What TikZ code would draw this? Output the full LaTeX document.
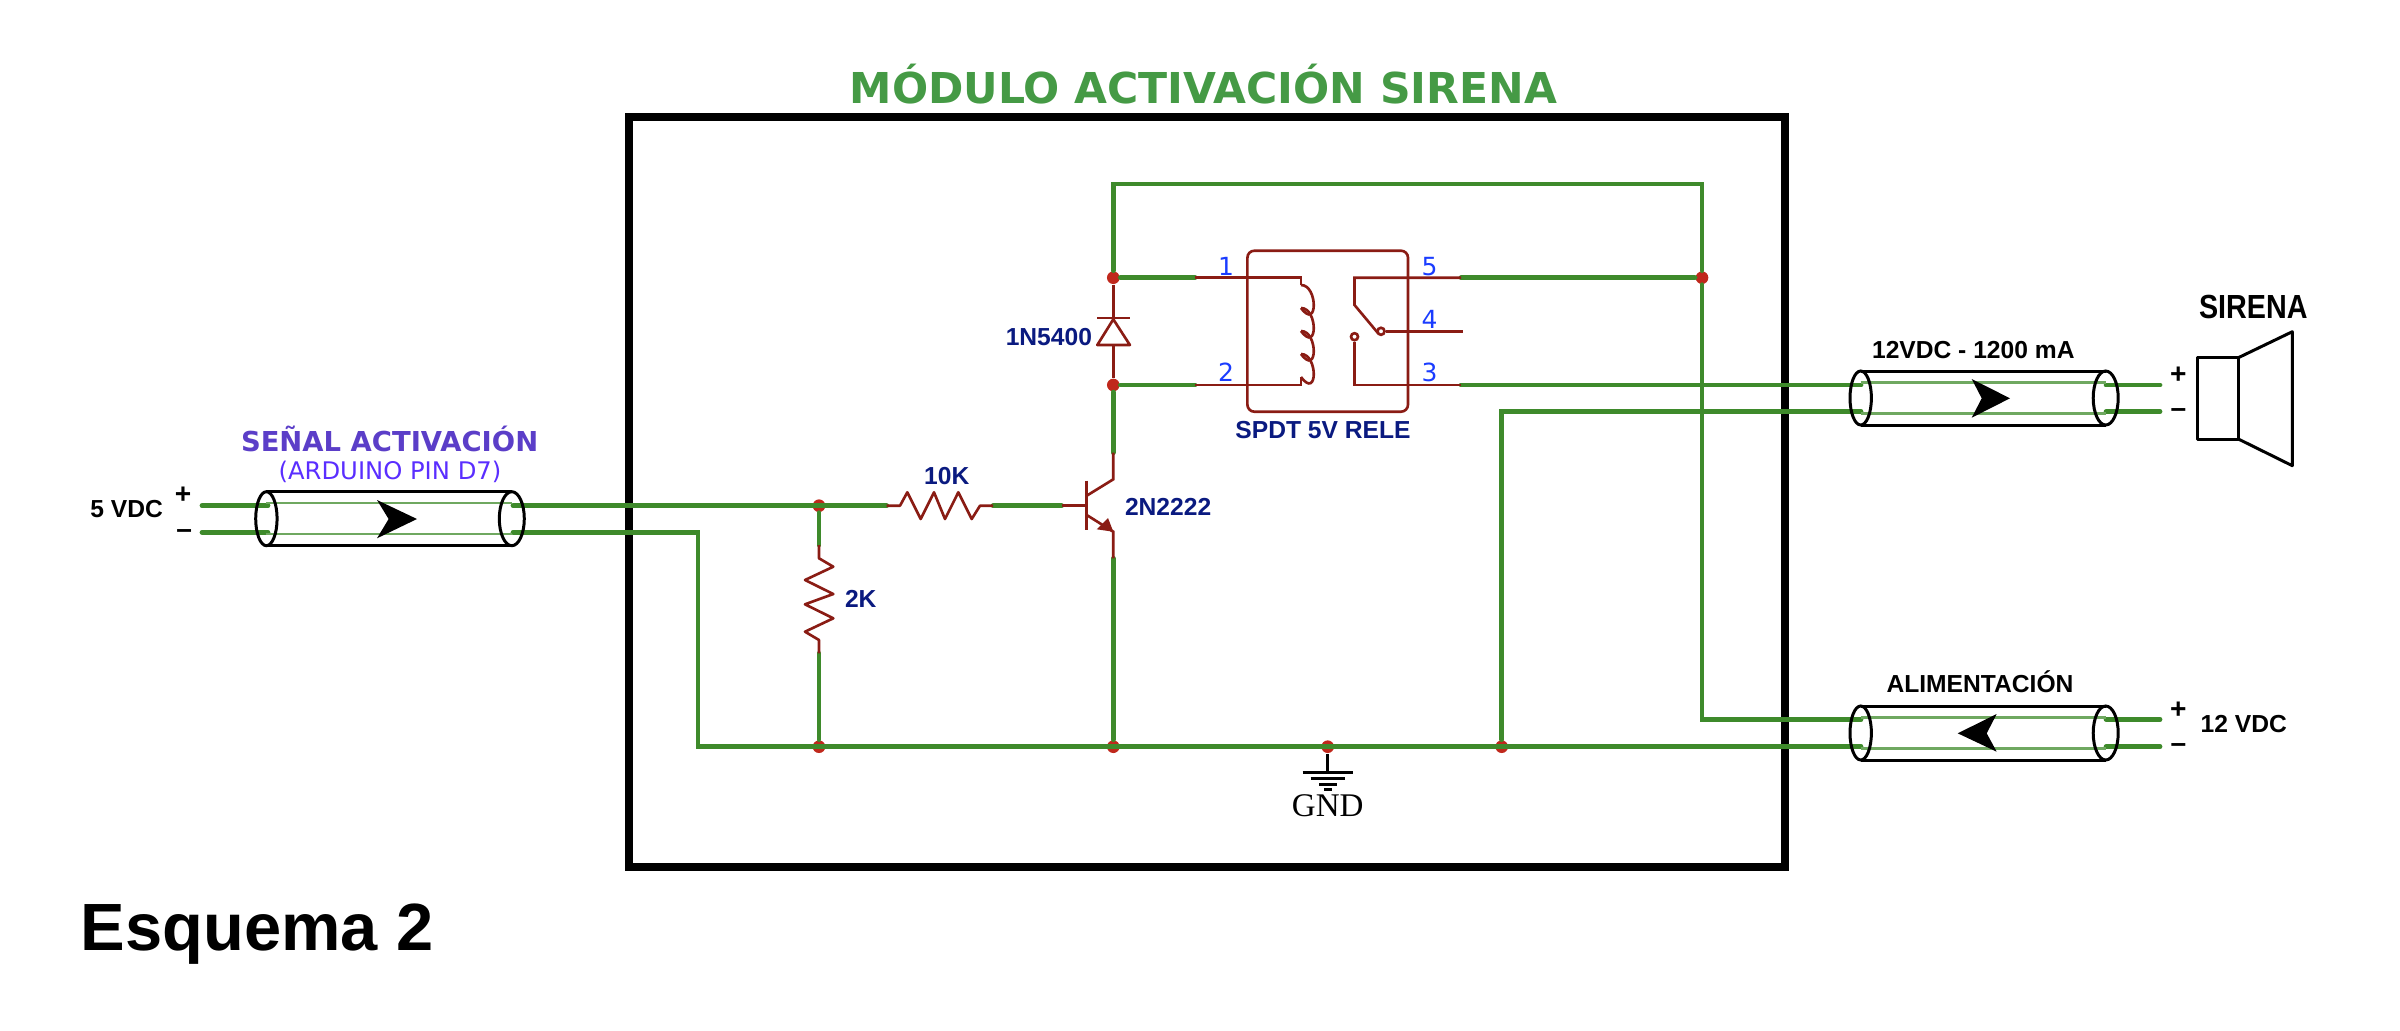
\documentclass[tikz,border=0pt]{standalone}
\usepackage{fontspec}
\setmainfont{Liberation Sans}
\newfontfamily\dejavu{DejaVu Sans}
\newfontfamily\timesf{Liberation Serif}
\usepackage{xcolor}
\usetikzlibrary{calc}
\definecolor{wiregreen}{HTML}{3E8A2B}
\definecolor{thingreen}{HTML}{6FA860}
\definecolor{partred}{HTML}{8A1C14}
\definecolor{dotred}{HTML}{C0281C}
\definecolor{titlegreen}{HTML}{459A45}
\definecolor{navylbl}{HTML}{0A1A80}
\definecolor{pinblue}{HTML}{1A3CFF}
\definecolor{signalviolet}{HTML}{5B3EC8}
\definecolor{ardviolet}{HTML}{5A2EFF}
\tikzset{
  wire/.style={line width=1.35pt,color=wiregreen,line cap=round},
  thinwire/.style={line width=.6pt,color=thingreen},
  part/.style={line width=.75pt,color=partred},
  tube/.style={line width=.85pt,black},
  dot/.style={circle,fill=dotred,inner sep=0pt,minimum size=3.6pt},
  lbl/.style={inner sep=0pt,anchor=base,font=\bfseries\fontsize{7}{8}\selectfont,text=navylbl},
  blacklbl/.style={lbl,text=black},
  pin/.style={inner sep=0pt,anchor=base,text=pinblue,font=\dejavu\fontsize{7.1}{8}\selectfont},
  sign/.style={inner sep=0pt,font=\bfseries\fontsize{8}{9}\selectfont}
}
\begin{document}
\begin{tikzpicture}[x=0.01cm,y=-0.01cm]
  \useasboundingbox (0,0) rectangle (2400,1030);
  % module frame
  \draw[line width=2.1pt] (629,117) rectangle (1785,867);
  \node[inner sep=0pt,anchor=base west,text=titlegreen,font=\dejavu\bfseries\fontsize{12.1}{14}\selectfont] (title) at (849,103.3) {MÓDULO ACTIVACIÓN SIRENA};
  \node[inner sep=0pt,anchor=base west,font=\bfseries\fontsize{19}{22}\selectfont] (scheme) at (80,950) {Esquema 2};
  % junctions
  \node[dot] (j1) at (819,505.7) {};
  \node[dot] (j2) at (819,746.7) {};
  \node[dot] (j3) at (1113.3,746.7) {};
  \node[dot] (j4) at (1113.3,277.7) {};
  \node[dot] (j5) at (1113.3,385) {};
  \node[dot] (j6) at (1702,277.7) {};
  \node[dot] (j7) at (1501.7,746.7) {};
  \node[dot] (j8) at (1327.7,746.7) {};
  % wire ends
  \coordinate (in1) at (202,505.7);
  \coordinate (in2) at (202,532.3);
  \coordinate (sigl1) at (268,505.7);
  \coordinate (sigl2) at (268,532.3);
  \coordinate (sigr1) at (513,505.7);
  \coordinate (sigr2) at (513,532.3);
  \coordinate (r10a) at (886.7,505.7);
  \coordinate (r10b) at (993,505.7);
  \coordinate (qb) at (1061.7,505.7);
  \coordinate (r2a) at (819,545);
  \coordinate (r2b) at (819,653.3);
  \coordinate (qc) at (1113.3,452.7);
  \coordinate (qe) at (1113.3,558.3);
  \coordinate (p1) at (1195,277.7);
  \coordinate (p2) at (1195,385);
  \coordinate (p5) at (1461,277.7);
  \coordinate (p3) at (1461,385);
  \coordinate (p4) at (1462.8,331.3);
  \coordinate (sirl1) at (1861,385);
  \coordinate (sirl2) at (1861,411.7);
  \coordinate (sirr1) at (2106,385);
  \coordinate (sirr2) at (2106,411.7);
  \coordinate (sir1) at (2160,385);
  \coordinate (sir2) at (2160,411.7);
  \coordinate (pwl1) at (1861,719.3);
  \coordinate (pwl2) at (1861,746.7);
  \coordinate (pwr1) at (2106,719.3);
  \coordinate (pwr2) at (2106,746.7);
  \coordinate (pw1) at (2160,719.3);
  \coordinate (pw2) at (2160,746.7);
  % green wiring
  \draw[wire] (in1) -- (sigl1);
  \draw[wire] (in2) -- (sigl2);
  \draw[wire] (sigr1) -- (r10a);
  \draw[wire] (r10b) -- (qb);
  \draw[wire,line join=miter] (sigr2) -| (698,746.7) -- (pwl2);
  \draw[wire] (j1) -- (r2a);
  \draw[wire] (r2b) -- (j2);
  \draw[wire] (qe) -- (j3);
  \draw[wire] (qc) -- (j5);
  \draw[wire] (j4) -- (p1);
  \draw[wire] (j5) -- (p2);
  \draw[wire,line join=miter] (j4) |- (1702,184) -- (j6);
  \draw[wire,line join=miter] (j6) |- (pwl1);
  \draw[wire] (p5) -- (j6);
  \draw[wire] (p3) -- (sirl1);
  \draw[wire,line join=miter] (j7) |- (sirl2);
  \draw[wire] (sirr1) -- (sir1);
  \draw[wire] (sirr2) -- (sir2);
  \draw[wire] (pwr1) -- (pw1);
  \draw[wire] (pwr2) -- (pw2);
  % cables
  \foreach \lx/\rx/\my in {266.4/511.8/518.7,1860.7/2105.7/398,1860.7/2105.7/733}{
    \draw[thinwire] (\lx,\my-15.5) -- (\rx,\my-15.5);
    \draw[thinwire] (\lx,\my+15.5) -- (\rx,\my+15.5);
    \draw[tube] (\lx,\my-27) -- (\rx,\my-27);
    \draw[tube] (\lx,\my+27) -- (\rx,\my+27);
    \draw[tube] (\lx,\my) ellipse (10.7 and 27);
    \draw[tube] (\rx,\my) ellipse (12.5 and 27);
  }
  \fill (417,519) -- (377,500) -- (388.6,519) -- (377,538.3) -- cycle;
  \fill (2010,398.3) -- (1971.7,379) -- (1981.7,398.3) -- (1971.7,417.7) -- cycle;
  \fill (1957.7,733.3) -- (1996.7,714) -- (1986.7,733.3) -- (1996.7,751.7) -- cycle;
  % resistors
  \draw[part,line join=round] (r10a) -- (900,505.7) -- (907.3,492.3) -- (920.7,519) -- (934,492.3) -- (945,519) -- (958.3,492.3) -- (971.7,519) -- (980,505.7) -- (r10b);
  \draw[part,line join=round] (r2a) -- (819,558.3) -- (833.3,566.7) -- (805,580) -- (833.3,594) -- (805,604.3) -- (833.3,618.3) -- (805,631.7) -- (819,640) -- (r2b);
  % transistor
  \draw[part] (qb) -- (1086.7,505.7);
  \draw[part] (1086.7,480.7) -- (1086.7,530);
  \draw[part] (1086.7,495.7) -- (1113.3,479.3) -- (qc);
  \draw[part] (1086.7,515) -- (1113.3,531.7) -- (qe);
  \fill[partred] (1113.3,531.7) -- (1108,518) -- (1096.7,529.3) -- cycle;
  % diode
  \draw[part] (j4) -- (1113.3,318);
  \draw[part] (1097.3,318) -- (1129.9,318);
  \draw[part,line join=round] (1113.3,319.3) -- (1129.9,345) -- (1097.3,345) -- cycle;
  \draw[part] (1113.3,345) -- (j5);
  % relay
  \draw[part,rounded corners=2pt] (1247.4,250.7) rectangle (1408,411.7);
  \draw[part] (p1) -| (1301,285);
  \draw[part] (p2) -| (1301,377);
  \foreach \k in {0,1,2,3}{
    \draw[part] (1301,285+23*\k) .. controls +(17,0) and +(17,23) .. +(0,23);
  }
  \draw[part] (p5) -| (1354.5,305) -- (1377.9,333);
  \node[part,draw,circle,fill=white,inner sep=0pt,minimum size=2pt] (cm) at (1381,331.3) {};
  \node[part,draw,circle,fill=white,inner sep=0pt,minimum size=2pt] (nc) at (1354.5,336.7) {};
  \draw[part] (cm) -- (p4);
  \draw[part] (nc) |- (p3);
  % ground
  \draw[line width=.85pt] (j8) -- (1327.7,772.7);
  \draw[line width=.85pt] (1302.7,772.7) -- (1353.3,772.7);
  \draw[line width=.85pt] (1310.7,778.7) -- (1345,778.7);
  \draw[line width=.85pt] (1319,784) -- (1337,784);
  \draw[line width=.85pt] (1324,789.3) -- (1332,789.3);
  % siren
  \draw[tube,line join=round] (2197.3,357.7) rectangle (2238.3,439);
  \draw[tube,line join=round] (2238.3,357.7) -- (2292.3,331.7) -- (2292.3,465.7) -- (2238.3,439);
  % labels
  \node[inner sep=0pt,anchor=base,font=\dejavu\bfseries\fontsize{7.8}{9}\selectfont,text=signalviolet] (sig) at (389.6,451.7) {SEÑAL ACTIVACIÓN};
  \node[inner sep=0pt,anchor=base,font=\dejavu\fontsize{6.9}{8}\selectfont,text=ardviolet] (ard) at (390,479.3) {(ARDUINO PIN D7)};
  \node[blacklbl,anchor=base east] (v5) at (163.6,517.3) {5 VDC};
  \node[sign] (sa1) at (183.2,495) {+};
  \node[sign] (sa2) at (184.3,534) {--};
  \node[sign] (sb1) at (2178.3,375) {+};
  \node[sign] (sb2) at (2178.3,413) {--};
  \node[sign] (sc1) at (2178.3,710) {+};
  \node[sign] (sc2) at (2178.3,748) {--};
  \node[lbl] (r10) at (946.7,484.3) {10K};
  \node[lbl,anchor=base west] (r2) at (844.3,607.3) {2K};
  \node[lbl,anchor=base west] (q) at (1124.3,515) {2N2222};
  \node[lbl,anchor=base east] (d) at (1092.7,345) {1N5400};
  \node[lbl] (rele) at (1323,438.3) {SPDT 5V RELE};
  \node[pin] (n1) at (1226,275) {1};
  \node[pin] (n2) at (1226,381.7) {2};
  \node[pin] (n5) at (1429.5,275) {5};
  \node[pin] (n4) at (1429.5,328.3) {4};
  \node[pin] (n3) at (1429.5,381.7) {3};
  \node[blacklbl] (sirv) at (1973.3,358.3) {12VDC - 1200 mA};
  \node[blacklbl,font=\bfseries\fontsize{9.5}{11}\selectfont,xscale=.86] (sir) at (2253.3,318.3) {SIRENA};
  \node[blacklbl] (pw) at (1980,692.7) {ALIMENTACIÓN};
  \node[blacklbl,anchor=base west] (v12) at (2200,732.7) {12 VDC};
  \node[inner sep=0pt,anchor=base,font=\timesf\fontsize{9.4}{11}\selectfont] (gnd) at (1327.7,816) {GND};
\end{tikzpicture}
\end{document}
